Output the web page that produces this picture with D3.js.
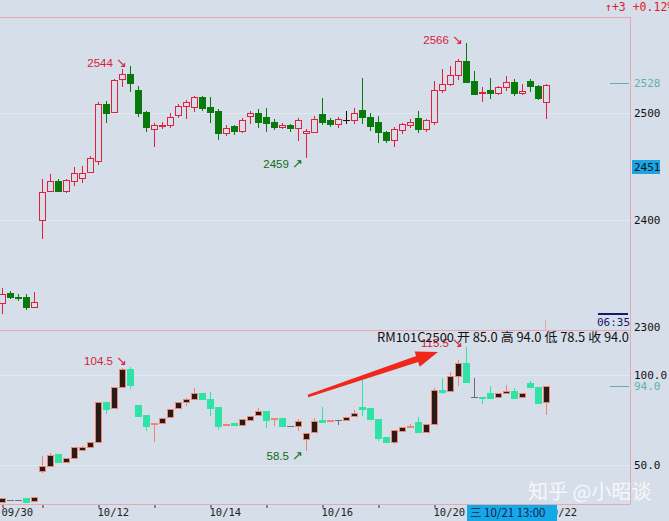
<!DOCTYPE html>
<html>
<head>
<meta charset="utf-8">
<script src="https://cdn.jsdelivr.net/npm/d3@7"></script>
<style>
  html, body { margin: 0; padding: 0; background: #d6deea; }
  svg { display: block; }
  text { font-family: "Liberation Sans", "DejaVu Sans", sans-serif; }
</style>
</head>
<body>
<svg id="chart" width="669" height="521"></svg>
<script>
// futures candles (RM101), one per bar
const futOpen  = [2322,2331,2328,2328,2318,2400,2427,2436,2427,2436,2439,2445,2455,2508,2501,2532,2537,2522,2501,2485,2488,2489,2498,2507,2506,2515,2506,2502,2481,2488,2483,2497,2500,2496,2492,2487,2489,2486,2481,2482,2499,2493,2490,2493,2493,2503,2496,2492,2482,2475,2484,2489,2495,2485,2492,2522,2527,2536,2549,2530,2519,2522,2519,2524,2529,2519,2530,2525,2510];
const futHigh  = [2336,2333,2330,2330,2332,2438,2443,2438,2438,2449,2450,2460,2510,2511,2532,2541,2544,2525,2502,2491,2492,2500,2508,2512,2516,2516,2515,2504,2489,2489,2495,2502,2504,2505,2494,2491,2490,2495,2485,2497,2514,2495,2496,2502,2505,2533,2500,2497,2483,2487,2491,2494,2502,2494,2530,2541,2544,2551,2566,2539,2524,2533,2525,2535,2532,2527,2532,2526,2527];
const futLow   = [2313,2327,2325,2316,2318,2383,2427,2427,2426,2433,2435,2445,2452,2492,2501,2525,2521,2497,2483,2469,2486,2487,2496,2495,2502,2503,2492,2476,2479,2480,2482,2491,2487,2483,2485,2486,2483,2475,2459,2482,2490,2488,2487,2491,2491,2491,2484,2473,2473,2469,2481,2487,2482,2483,2490,2520,2526,2532,2529,2518,2511,2514,2518,2522,2517,2518,2521,2513,2495];
const futClose = [2330,2328,2327,2318,2323,2426,2436,2427,2437,2444,2444,2458,2508,2500,2531,2537,2528,2500,2487,2489,2489,2496,2507,2510,2515,2505,2501,2481,2486,2483,2493,2500,2492,2491,2487,2489,2486,2493,2483,2494,2492,2490,2494,2493,2500,2496,2488,2482,2475,2485,2490,2492,2485,2493,2522,2527,2536,2549,2529,2518,2520,2519,2524,2529,2519,2521,2525,2514,2526];

// option candles (RM101C2500)
const optOpen  = [29.5,30.5,30.5,31.8,30,46.5,49.4,56.1,51.9,53.7,58.3,59.8,62.6,85.2,81.5,93.5,103.1,83.3,77.8,72.6,73.1,76.5,81.5,84.8,86.7,89.8,86.5,82,72.3,73.1,72.2,75,77.8,80,75.8,75.9,71.9,71.9,64.3,68.1,75,74.4,75,75,77.2,82,81.5,75.4,65.7,62.9,69.1,70.9,74.1,68.5,72.6,91.7,91.1,99.4,106.9,88,88,90.2,88,90.2,91.3,88,95.4,93.5,85];
const optHigh  = [31.5,30.5,30.5,31.8,32.4,55,56.8,56.1,53.7,60.2,60.5,62.6,85,85.2,93.1,104,104.5,83.3,77.8,73.1,76.3,81.1,84.8,87.5,92.6,89.8,90.4,82,72.8,73.1,75.4,77.4,81.5,80,75.9,75.9,71.9,75.5,67.9,76,82.4,74.8,75,76.9,80.5,97.2,81.5,75.4,65.7,69.4,70.9,72.6,76.5,72.6,93,98.1,101.5,108.3,115.5,98.1,88,93.9,90.2,94.4,93,90.2,96.5,93.5,94];
const optLow   = [29.3,30.5,30.5,29.6,30,46.3,49.4,51.9,51.9,53.7,58.3,59.8,62.6,78.7,81.5,93.5,93,77.4,69.4,63.3,73.1,76.5,81.5,83.5,86.7,86.5,77.8,70,72.3,72.2,72.2,75,77.8,71.3,72,71.9,71.9,69.4,58.5,68.1,74.1,74.4,72.8,75,77.2,77.8,75.4,64,62.9,62,69.1,70.9,68.5,68.5,72.6,89.8,91.1,94.4,96.3,88,84.6,87.1,88,90.2,87.4,88,93.1,84.6,78.5];
const optClose = [31.5,30.5,30.5,29.6,32.4,49.4,55.6,51.9,53.7,60.2,60.2,62.6,84.8,81.1,93.1,103.1,94.4,77.4,71.9,73.1,76.3,81.1,84.8,86.5,89.8,86.5,81.9,71.9,72.8,72.2,75.4,77.4,80,75,75.9,71.9,71.9,74.6,67.9,74.6,74.1,74.8,75,76.9,79,81.1,75.4,64.8,62.9,69.4,70.9,71.9,68.5,72.6,91.7,90.7,99.4,106.5,96.3,88,87.1,87.1,90.2,91.1,87.4,90.2,93.1,84.6,94];

const dateTicks  = [0,5,12,19,26,33,40,47,54,61,68];
const dateLabels = ["09/30","","10/12","","10/14","","10/16","","10/20","","10/22"];
const futTicks = [2300,2400,2500];
const optTicks = [50,100];

const svg = d3.select("#chart");
const axisX = 630, topY = 17, midY = 330, botY = 504;

const x = d3.scaleLinear().domain([0, 68]).range([2, 546]);
const yTop = d3.scaleLinear().domain([2300, 2500]).range([326.5, 113]);
const yBot = d3.scaleLinear().domain([50, 100]).range([465, 375]);

// faint grid
svg.append("g").selectAll("line").data(futTicks.slice(1)).join("line")
  .attr("x1", 0).attr("x2", axisX)
  .attr("y1", d => Math.round(yTop(d)) + 0.5).attr("y2", d => Math.round(yTop(d)) + 0.5)
  .attr("stroke", "#ffffff").attr("stroke-opacity", 0.3);
svg.append("g").selectAll("line").data(optTicks).join("line")
  .attr("x1", 0).attr("x2", axisX)
  .attr("y1", d => Math.round(yBot(d)) + 0.5).attr("y2", d => Math.round(yBot(d)) + 0.5)
  .attr("stroke", "#ffffff").attr("stroke-opacity", 0.3);

function drawCandles(g, o, h, l, c, y, st) {
  const idx = d3.range(o.length);
  const kind = i => c[i] > o[i] ? "up" : (c[i] < o[i] ? "down" : "flat");
  const cx = i => Math.round(x(i));
  g.selectAll("line.wick").data(idx).join("line")
    .attr("class", "wick")
    .attr("x1", i => cx(i) + 0.5).attr("x2", i => cx(i) + 0.5)
    .attr("y1", i => Math.round(y(h[i]))).attr("y2", i => Math.round(y(l[i])) + 1)
    .attr("stroke", i => st[kind(i)].wick);
  g.selectAll("rect.body").data(idx.filter(i => kind(i) != "flat")).join("rect")
    .attr("class", "body")
    .attr("x", i => cx(i) - 2.5)
    .attr("y", i => Math.round(y(Math.max(o[i], c[i]))) + 0.5)
    .attr("width", 6)
    .attr("height", i => Math.max(1, Math.round(y(Math.min(o[i], c[i]))) - Math.round(y(Math.max(o[i], c[i])))))
    .attr("fill", i => st[kind(i)].fill)
    .attr("stroke", i => st[kind(i)].stroke);
  g.selectAll("line.flat").data(idx.filter(i => kind(i) == "flat")).join("line")
    .attr("class", "flat")
    .attr("x1", i => cx(i) - 3).attr("x2", i => cx(i) + 4)
    .attr("y1", i => Math.round(y(o[i])) + 0.5).attr("y2", i => Math.round(y(o[i])) + 0.5)
    .attr("stroke", st.flat.wick);
}

drawCandles(svg.append("g"), futOpen, futHigh, futLow, futClose, yTop, {
  up:   { fill: "#d6deea", stroke: "#e0203c", wick: "#e0203c" },
  down: { fill: "#077a0b", stroke: "#077a0b", wick: "#077a0b" },
  flat: { wick: "#111" }
});
drawCandles(svg.append("g"), optOpen, optHigh, optLow, optClose, yBot, {
  up:   { fill: "#2a1a16", stroke: "#ee8472", wick: "#ee8472" },
  down: { fill: "#2fe3a6", stroke: "#2fe3a6", wick: "#2fe3a6" },
  flat: { wick: "#6a6f78" }
});

// high / low markers (text ends just left of the marked candle)
const marks = [
  { t: "2544", a: "\u2198", i: 16, v: 2544, y: yTop, dy: 1, col: "#d8203a" },
  { t: "2566", a: "\u2198", i: 58, v: 2566, y: yTop, dy: 1, col: "#d8203a" },
  { t: "2459", a: "\u2197", i: 38, v: 2459, y: yTop, dy: 11, col: "#0d6e12" },
  { t: "104.5", a: "\u2198", i: 16, v: 104.5, y: yBot, dy: -2, col: "#d8203a" },
  { t: "115.5", a: "\u2198", i: 58, v: 115.5, y: yBot, dy: 0, col: "#d8203a" },
  { t: "58.5", a: "\u2197", i: 38, v: 58.5, y: yBot, dy: 10, col: "#0d6e12" }
];
const mk = svg.append("g").selectAll("text").data(marks).join("text")
  .attr("x", d => x(d.i) - 3).attr("y", d => d.y(d.v) + d.dy)
  .attr("text-anchor", "end")
  .attr("font-size", 11.5).attr("fill", d => d.col);
mk.append("tspan").text(d => d.t + " ");
mk.append("tspan").attr("font-size", 13).text(d => d.a);

// red annotation arrow in the lower panel
(function () {
  const p0 = [308, 396], p1 = [438, 352];
  const dx = p1[0] - p0[0], dy = p1[1] - p0[1], len = Math.hypot(dx, dy);
  const ux = dx / len, uy = dy / len, nx = -uy, ny = ux;
  const hl = 22, hw = 8, w0 = 1.2, w1 = 3.2;
  const bx = p1[0] - ux * hl, by = p1[1] - uy * hl;
  const pts = [
    [p0[0] + nx * w0, p0[1] + ny * w0],
    [bx + nx * w1, by + ny * w1],
    [bx + nx * hw, by + ny * hw],
    p1,
    [bx - nx * hw, by - ny * hw],
    [bx - nx * w1, by - ny * w1],
    [p0[0] - nx * w0, p0[1] - ny * w0]
  ];
  svg.append("polygon").attr("points", pts.map(p => p.join(",")).join(" "))
    .attr("fill", "#f0281c");
})();

// info line of lower panel
svg.append("text").attr("x", 377).attr("y", 342)
  .attr("font-size", 12.5).attr("fill", "#111")
  .style("font-family", "'Noto Sans CJK SC', sans-serif")
  .attr("textLength", 252).attr("lengthAdjust", "spacingAndGlyphs")
  .text("RM101C2500 开 85.0 高 94.0 低 78.5 收 94.0");

// panel frames
const pink = "#e6a9b4";
svg.append("line").attr("x1", 0).attr("x2", axisX + 1).attr("y1", topY + 0.5).attr("y2", topY + 0.5).attr("stroke", pink);
svg.append("line").attr("x1", 0).attr("x2", axisX + 1).attr("y1", midY + 0.5).attr("y2", midY + 0.5).attr("stroke", pink);
svg.append("line").attr("x1", 0).attr("x2", axisX + 1).attr("y1", botY + 0.5).attr("y2", botY + 0.5).attr("stroke", pink);
svg.append("line").attr("x1", axisX + 0.5).attr("x2", axisX + 0.5).attr("y1", topY).attr("y2", botY + 1).attr("stroke", pink);
svg.append("line").attr("x1", 545.5).attr("x2", 545.5).attr("y1", 320).attr("y2", midY).attr("stroke", pink);

// right axes
const styleAxis = g => {
  g.select(".domain").remove();
  g.selectAll("text").attr("fill", "#111")
    .style("font-family", "'DejaVu Sans Mono', monospace").attr("font-size", 11);
};
svg.append("g").attr("transform", `translate(${axisX},0)`)
  .call(d3.axisRight(yTop).tickValues(futTicks).tickSize(0).tickPadding(4).tickFormat(d3.format("d")))
  .call(styleAxis);
svg.append("g").attr("transform", `translate(${axisX},0)`)
  .call(d3.axisRight(yBot).tickValues(optTicks).tickSize(0).tickPadding(4).tickFormat(d3.format(".1f")))
  .call(styleAxis);

// last price markers
const lastFut = futClose[futClose.length - 1] + 2, lastOpt = optClose[optClose.length - 1];
[[yTop(lastFut), "2528"], [yBot(lastOpt), "94.0"]].forEach(([yy, t]) => {
  svg.append("line").attr("x1", 610).attr("x2", axisX - 1).attr("y1", Math.round(yy) + 0.5).attr("y2", Math.round(yy) + 0.5)
    .attr("stroke", "#6aa9b0");
  svg.append("text").attr("x", axisX + 4).attr("y", yy + 4).attr("font-size", 11)
    .style("font-family", "'DejaVu Sans Mono', monospace").attr("fill", "#5fb0b4").text(t);
});

// cursor value box on price axis
svg.append("rect").attr("x", axisX + 2).attr("y", 160).attr("width", 28).attr("height", 14).attr("fill", "#1aa6e4");
svg.append("text").attr("x", axisX + 4).attr("y", 171).attr("font-size", 11)
  .style("font-family", "'DejaVu Sans Mono', monospace").attr("fill", "#111").text("2451");

// time box of the upper panel
svg.append("line").attr("x1", 598).attr("x2", 628).attr("y1", 314).attr("y2", 314).attr("stroke", "#151a6e").attr("stroke-width", 2);
svg.append("text").attr("x", 597).attr("y", 326).attr("font-size", 11)
  .style("font-family", "'DejaVu Sans Mono', monospace").attr("fill", "#151a6e").text("06:35");

// date axis
const xa = svg.append("g").attr("transform", `translate(0,${botY + 1})`)
  .call(d3.axisBottom(x).tickValues(dateTicks).tickSize(3).tickPadding(2)
    .tickFormat((d, k) => dateLabels[k]));
xa.select(".domain").remove();
xa.selectAll("line").attr("stroke", "#333").attr("transform", "translate(0.5,0)");
xa.selectAll("text").attr("text-anchor", "start").attr("dx", -1).attr("dy", "0.55em")
  .attr("fill", "#222")
  .style("font-family", "'DejaVu Sans Mono', monospace").attr("font-size", 10.5);

// cursor time box
svg.append("rect").attr("x", 467).attr("y", 505).attr("width", 90).attr("height", 16).attr("fill", "#14a8e6");
svg.append("text").attr("x", 470).attr("y", 517).attr("font-size", 11.5).attr("fill", "#1a1a50")
  .style("font-family", "'Noto Sans CJK SC', sans-serif").text("三 10/21 13:00");

// change readout
svg.append("text").attr("x", 605).attr("y", 11).attr("font-size", 11.5).attr("fill", "#e0202a")
  .style("font-family", "'DejaVu Sans Mono', monospace").text("\u2191+3 +0.12%");

// watermark
svg.append("text").attr("x", 528).attr("y", 499).attr("font-size", 20).attr("fill", "#ffffff")
  .attr("fill-opacity", 0.8).style("font-family", "'Noto Sans CJK SC', sans-serif").text("知乎 @小昭谈");
</script>
</body>
</html>
